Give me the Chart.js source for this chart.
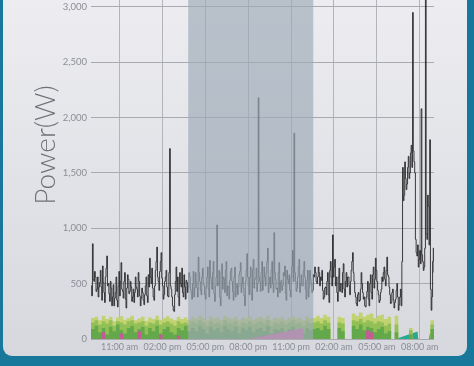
<!DOCTYPE html>
<html><head><meta charset="utf-8">
<script src="https://cdn.jsdelivr.net/npm/chart.js@4/dist/chart.umd.min.js"></script>
<style>html,body{margin:0;padding:0;background:#18789c;}canvas{display:block}</style>
</head><body><canvas id="c" width="474" height="366"></canvas>
<script>
// time axis: hours after 09:00 am
const powerStep = 0.05;
const powerValues = [
480,390,860,540,520,610,560,430,450,560,380,470,510,620,470,350,660,510,420,330,560,640,750,480,500,410,340,520,460,300,380,490,300,370,420,560,350,290,480,610,
390,520,690,450,430,370,520,600,360,280,460,580,540,410,430,520,470,340,380,450,330,420,560,470,450,380,600,520,390,300,370,460,420,350,310,400,480,560,390,330,
580,470,730,560,500,640,460,380,350,480,620,700,830,560,520,440,610,700,780,550,480,360,400,520,560,620,470,390,380,600,1720,480,450,380,300,260,250,400,520,650,
430,560,380,300,600,500,470,640,420,380,580,470,360,530,510,420,470,600,560,450,420,360,500,610,380,460,600,520,460,380,740,600,520,440,400,560,640,500,480,400,
360,470,560,650,450,380,710,560,520,450,600,700,410,340,480,560,1030,480,500,620,380,300,600,680,450,560,540,420,620,700,390,480,470,360,530,610,640,520,430,350,
560,650,380,470,500,400,470,580,610,690,420,500,560,460,390,300,520,620,770,560,480,400,560,650,410,350,630,720,460,540,550,640,430,500,2180,560,520,430,600,700,
440,520,650,560,480,600,700,820,420,500,560,460,620,700,500,420,960,600,540,450,460,380,600,690,420,510,530,440,480,600,570,660,410,350,620,540,500,580,440,380,
560,660,800,520,1860,600,520,430,460,560,650,720,420,500,580,480,480,620,700,560,450,360,530,620,380,470,620,540,500,420,440,580,560,650,600,520,500,560,650,600,
480,560,530,620,440,360,380,460,470,400,520,600,400,330,620,700,560,480,940,560,650,720,480,560,420,340,560,640,430,500,500,420,600,680,450,380,520,600,470,560,
560,480,400,520,620,700,780,600,520,420,380,320,300,400,420,340,350,450,600,500,420,360,380,300,290,380,430,520,360,300,500,580,420,360,580,650,460,540,730,620,
520,440,400,330,350,420,450,560,520,600,650,540,480,620,740,580,560,470,400,320,330,420,450,350,280,330,360,440,500,380,260,310,380,450,300,700,1550,1250,1300,1600,
1450,1350,1400,1550,1650,1450,1500,1680,1750,1550,2950,1700,1600,1500,900,780,750,850,650,720,800,680,2080,760,700,620,650,820,3100,950,900,1300,1200,850,1800,450,260,380,700,820,
600
];
const areaStep = 0.25;
const yellowGreenValues = [
190,200,170,210,180,200,160,195,205,175,190,210,170,185,200,165,195,180,210,175,190,205,185,170,200,180,195,175,
200,180,210,190,170,205,185,195,175,210,190,180,200,170,195,185,205,175,190,200,180,210,170,195,185,200,175,190,210,180,195,170,200,185,190,
210,190,220,200,0,0,200,190,0,0,230,210,240,200,220,230,190,210,220,180,200,0,210,0,0,0,100,0,0,0,0,0,170,150
];
const lightGreenValues = [
150,170,130,160,140,170,120,160,150,130,160,170,140,150,160,120,150,140,170,130,150,160,140,120,160,140,150,130,
160,140,170,150,120,160,140,150,130,170,150,140,160,120,150,140,160,130,150,160,140,170,120,150,140,160,130,150,170,140,150,120,160,140,150,
160,140,170,150,0,0,150,140,0,0,170,160,180,150,170,160,140,160,150,120,140,0,130,0,0,0,80,0,0,0,0,0,130,120
];
const midGreenValues = [
90,120,60,100,40,110,70,130,80,50,100,120,60,90,110,40,100,70,120,50,90,110,60,40,100,80,120,70,
100,70,120,90,50,110,80,100,60,120,90,70,110,50,100,80,110,60,90,100,70,120,50,90,80,100,60,90,110,70,90,50,100,80,90,
100,80,120,90,0,0,100,70,0,0,120,90,130,80,110,100,60,90,110,50,70,0,60,0,0,0,40,0,0,0,0,0,90,70
];
const pinkValues = [
0,0,0,60,0,0,0,0,50,0,0,0,0,70,0,0,0,0,0,40,0,0,0,0,30,0,0,0,
0,0,0,0,0,0,0,0,0,0,0,0,0,0,0,0,0,0,0,0,0,0,0,0,0,0,0,0,0,0,0,0,0,0,0,
0,0,0,0,0,0,0,0,0,0,0,0,0,0,80,60,0,0,0,0,0,0,0,0,0,0,0,0,0,0,0,0,0,0
];
const pinkRampHours = [11.0, 14.85, 14.9];
const pinkRampValues = [0, 100, 0];
const tealRampHours = [21.3, 22.85, 22.9, 23.65, 23.7, 24];
const tealRampValues = [0, 68, 0, 0, 45, 45];
const xTickHours = [2, 5, 8, 11, 14, 17, 20, 23];
const xTickLabels = ['11:00 am','02:00 pm','05:00 pm','08:00 pm','11:00 pm','02:00 am','05:00 am','08:00 am'];
const yTickValues = [0, 500, 1000, 1500, 2000, 2500, 3000];
const yTickLabels = ['0','500','1,000','1,500','2,000','2,500','3,000'];
const bandStartHour = 6.8, bandEndHour = 15.55;

const pts = (vals, step) => vals.map((v, i) => ({x: i * step, y: v}));
const pairs = (xs, ys) => xs.map((x, i) => ({x: x, y: ys[i]}));

const areaDs = (label, data, color, stepped) => ({
  label, data, borderWidth: 0, borderColor: color, backgroundColor: color,
  fill: 'origin', pointRadius: 0, stepped: stepped, tension: 0
});

const bgPlugin = {
  id: 'bg',
  beforeDraw(chart) {
    const ctx = chart.ctx;
    ctx.save();
    ctx.fillStyle = '#18789c';
    ctx.fillRect(0, 0, chart.width, chart.height);
    const g = ctx.createLinearGradient(0, 0, 0, 356);
    g.addColorStop(0, '#ededf1');
    g.addColorStop(1, '#d6d8dd');
    ctx.fillStyle = g;
    ctx.beginPath();
    ctx.roundRect(3, -12, 464, 368, 9);
    ctx.fill();
    ctx.restore();
  }
};
const bandPlugin = {
  id: 'band',
  afterDatasetsDraw(chart) {
    const ctx = chart.ctx, x = chart.scales.x, a = chart.chartArea;
    const x0 = x.getPixelForValue(bandStartHour), x1 = x.getPixelForValue(bandEndHour);
    ctx.save();
    ctx.fillStyle = 'rgba(157,168,182,0.66)';
    ctx.fillRect(x0, a.top, x1 - x0, a.bottom - a.top);
    ctx.restore();
  }
};
const titlePlugin = {
  id: 'ytitle',
  afterDraw(chart) {
    const ctx = chart.ctx;
    ctx.save();
    ctx.translate(46, 145);
    ctx.rotate(-Math.PI / 2);
    ctx.font = '300 28px Lato';
    ctx.fillStyle = '#707278';
    ctx.textAlign = 'center';
    ctx.textBaseline = 'middle';
    ctx.fillText('Power(W)', 0, 0);
    ctx.restore();
  }
};

new Chart(document.getElementById('c'), {
  type: 'line',
  data: {
    datasets: [
      {label: 'Power', data: pts(powerValues, powerStep), borderColor: 'rgba(35,35,38,0.88)', borderWidth: 1,
       pointRadius: 0, fill: false, stepped: true},
      areaDs('A6', pairs(pinkRampHours, pinkRampValues), '#d968a8', false),
      areaDs('A4', pts(pinkValues, areaStep), '#c65a94', true),
      areaDs('A3', pts(midGreenValues, areaStep), '#63a84a', true),
      areaDs('A2', pts(lightGreenValues, areaStep), '#92c057', true),
      areaDs('A1', pts(yellowGreenValues, areaStep), '#c2d271', true),
      areaDs('A5', pairs(tealRampHours, tealRampValues), '#2ba892', false)
    ]
  },
  options: {
    responsive: false, animation: false, events: [],
    layout: {padding: {left: 0, right: 40, top: 0, bottom: 0}},
    plugins: {legend: {display: false}, tooltip: {enabled: false}},
    scales: {
      x: {
        type: 'linear', min: 0, max: 24,
        afterBuildTicks: s => { s.ticks = xTickHours.map(v => ({value: v})); },
        afterFit: s => { s.height = 27; s.paddingLeft = 0; s.paddingRight = 0; },
        ticks: {
          autoSkip: false, maxRotation: 0, padding: 3, color: '#8b8e95',
          font: {family: 'Lato', size: 9},
          callback: v => xTickLabels[xTickHours.indexOf(v)]
        },
        grid: {color: '#b3b4ba', lineWidth: 1, drawTicks: false},
        border: {display: false}
      },
      y: {
        min: 0, max: 3063,
        afterBuildTicks: s => { s.ticks = yTickValues.map(v => ({value: v})); },
        afterFit: s => { s.width = 91; s.paddingTop = 0; s.paddingBottom = 0; },
        ticks: {
          padding: 4, color: '#8b8e95', font: {family: 'Lato', size: 9.5},
          callback: v => yTickLabels[yTickValues.indexOf(v)]
        },
        grid: {color: '#a9aab0', lineWidth: 1, drawTicks: false},
        border: {display: false}
      }
    }
  },
  plugins: [bgPlugin, bandPlugin, titlePlugin]
});
</script></body></html>
